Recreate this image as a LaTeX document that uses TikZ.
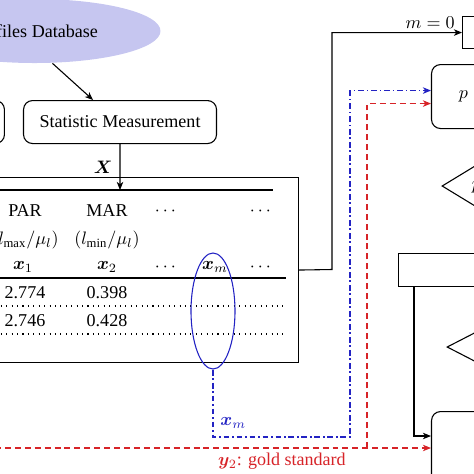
\documentclass[tikz,border=0pt]{standalone}
\usepackage{amsmath,bm}
\usepackage{fontspec}
\setmainfont{Liberation Serif}
\usetikzlibrary{arrows.meta,shapes.geometric,calc}
\newdimen\pxu \pxu=0.554pt
\definecolor{dbfill}{RGB}{198,198,240}
\definecolor{myblue}{RGB}{35,35,195}
\definecolor{myred}{RGB}{215,35,40}
\begin{document}
\begin{tikzpicture}[x=0.554pt,y=-0.554pt,
  rbox/.style={draw, line width=0.6pt, rounded corners=5pt, inner sep=0pt},
  sbox/.style={draw, line width=0.6pt, inner sep=0pt},
  conn/.style={line width=0.6pt, -{Stealth[length=4.5pt,width=3.6pt,inset=1.3pt]}},
  bluedash/.style={draw=myblue, line width=0.7pt, dash pattern=on 3.3pt off 1.6pt on 0.7pt off 1.6pt, -{Stealth[length=4.5pt,width=3.6pt,inset=1.3pt]}},
  reddash/.style={draw=myred, line width=0.6pt, dash pattern=on 3.3pt off 2.2pt, -{Stealth[length=4.5pt,width=3.6pt,inset=1.3pt]}},
  rule/.style={line width=0.6pt},
  dotrule/.style={line width=0.6pt, dash pattern=on 0.6pt off 2.4pt},
  cell/.style={inner sep=0pt, font=\fontsize{10}{12}\selectfont}]
\useasboundingbox (0,0) rectangle (474,474);

% database ellipse
\node[ellipse, fill=dbfill, minimum width=252\pxu, minimum height=64\pxu, inner sep=0pt] (db) at (34.5,31) {Profiles Database};

% boxes on the left
\node[rbox, minimum width=100\pxu, minimum height=43\pxu, anchor=north east] (lbox) at (5,100) {};
\node[rbox, minimum width=193\pxu, minimum height=43\pxu, anchor=north west] (sm) at (23,100) {Statistic Measurement};

\draw[conn] ($(db.south)+(18,0)$) -- ($(sm.north)+(-27,0)$);

% table
\node[sbox, minimum width=349\pxu, minimum height=185\pxu, anchor=north east] (tbl) at (299,177) {};
\coordinate (tin) at (120,190);
\draw[conn] (sm.south) -- (tin) node[midway, left, inner sep=4pt] {$\bm{X}$};
\draw[rule] (-10,190) -- (273,190);
\draw[rule] (-10,278) -- (286,278);
\draw[dotrule] (-10,306) -- (286,306);
\draw[dotrule] (-10,334) -- (286,334);

\node[cell] (h1) at (25,211) {PAR};
\node[cell] (h2) at (107,211) {MAR};
\node[cell] (h3) at (167,211) {$\cdots$};
\node[cell] (h5) at (262,211) {$\cdots$};
\node[cell] (u1) at (25,240) {$(l_{\max}/\mu_l)$};
\node[cell] (u2) at (107,240) {$(l_{\min}/\mu_l)$};
\node[cell] (v1) at (23,267) {$\bm{x}_1$};
\node[cell] (v2) at (107,267) {$\bm{x}_2$};
\node[cell] (v3) at (167,267) {$\cdots$};
\node[cell] (v4) at (215,267) {$\bm{x}_m$};
\node[cell] (v5) at (262,267) {$\cdots$};
\node[cell] (a1) at (25,293) {2.774};
\node[cell] (a2) at (107,293) {0.398};
\node[cell] (b1) at (25,321) {2.746};
\node[cell] (b2) at (107,321) {0.428};

% selection ellipse
\node[ellipse, draw=myblue, line width=0.6pt, minimum width=44\pxu, minimum height=116\pxu, inner sep=0pt] (sel) at (213,311) {};

% right-hand nodes
\node[sbox, minimum width=60\pxu, minimum height=32\pxu, anchor=north west] (tbox) at (462,16) {};
\node[rbox, minimum width=64\pxu, minimum height=64\pxu, anchor=north west] (pbox) at (431,64) {$p$};
\node[diamond, draw, line width=0.6pt, minimum width=120\pxu, minimum height=56\pxu, text width=60\pxu, align=left, inner sep=0pt] (d1) at (502,186) {$p<\alpha$};
\node[sbox, minimum width=120\pxu, minimum height=33\pxu, anchor=north west] (rect) at (398,253) {};
\node[diamond, draw, line width=0.6pt, minimum width=120\pxu, minimum height=62\pxu, inner sep=0pt] (d2) at (507,347) {};
\node[rbox, minimum width=100\pxu, minimum height=100\pxu, anchor=north west] (bbox) at (431,411) {};

% black loop connector
\coordinate (c1) at (332,269.5);
\draw[conn] (tbl.east) -- (c1) |- (tbox.west);
\node[anchor=base east, inner sep=0pt] (m0) at (455,28.5) {$m=0$};

% rect to bottom box
\draw[conn] ($(rect.south west)+(16,0)$) |- ($(bbox.north west)+(0,25)$);

% blue dash-dot
\coordinate (bl1) at (213,437);
\coordinate (bl2) at (350,437);
\draw[bluedash] (sel.south) -- (bl1) -- (bl2) |- ($(pbox.west)+(0,-6)$);
\node[anchor=west, text=myblue, inner sep=0pt] (xml) at (220,423) {$\bm{x}_m$};

% red dashed
\coordinate (rs) at (-5,448);
\coordinate (rb) at (367,448);
\draw[reddash] (rs) -- ($(bbox.north west)+(0,37)$);
\draw[reddash] (rb) |- ($(pbox.west)+(0,7)$);
\node[text=myred, inner sep=0pt] (gold) at (282,461) {$\bm{y}_2$: gold standard};
\end{tikzpicture}
\end{document}
